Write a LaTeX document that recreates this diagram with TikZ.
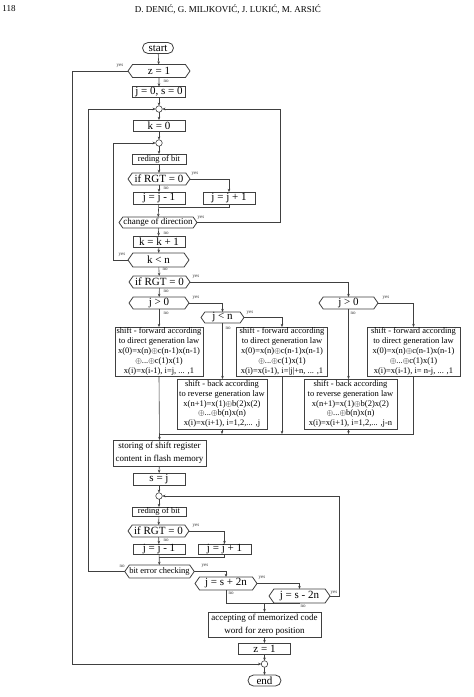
\documentclass[tikz,border=0pt]{standalone}
\usepackage{fontspec}
\setmainfont{Liberation Serif}
\usetikzlibrary{shapes.symbols,shapes.misc,arrows.meta}
\newcommand{\xop}{$\oplus$}
\begin{document}
\begin{tikzpicture}[x=1pt,y=-1pt,
  every node/.style={inner sep=0pt, outer sep=0pt},
  wh/.style 2 args={minimum width=#1pt, minimum height=#2pt},
  box/.style={draw=black!75, line width=0.8pt, fill=white, align=center, font=\fontsize{11}{12}\selectfont},
  hex/.style={draw=black!75, line width=0.8pt, fill=white, signal, signal to=east and west, signal pointer angle=110, font=\fontsize{11}{12}\selectfont},
  term/.style={draw=black!75, line width=0.8pt, fill=white, rounded rectangle, font=\fontsize{11}{12}\selectfont},
  circ/.style={draw=black!75, line width=0.6pt, fill=white, circle, minimum size=6.5pt},
  shiftbox/.style={box, font=\fontsize{8.5}{9.8}\selectfont},
  midbox/.style={box, font=\fontsize{9}{13}\selectfont},
  ln/.style={draw=black!75, line width=0.6pt},
  arr/.style={ln, -{Stealth[length=3.2pt,width=2.6pt]}},
  lab/.style={font=\fontsize{5}{6}\selectfont, text=black!80}
]
\useasboundingbox (0,0) rectangle (474,697);

% header
\node[font=\fontsize{9}{10}\selectfont] (pg) at (9,9) {118};
\node[font=\fontsize{9}{10}\selectfont] (hdr) at (228,9) {D. DENIĆ, G. MILJKOVIĆ, J. LUKIĆ, M. ARSIĆ};

% nodes
\node[term, wh={31}{11}] (start) at (158,48) {start};
\node[hex, wh={62}{13}] (z1) at (159,71) {z = 1};
\node[box, wh={53}{11}] (j0) at (159,92) {j = 0, s = 0};
\node[circ] (c1) at (159,109) {};
\node[box, wh={52}{11}] (k0) at (159,125.5) {k = 0};
\node[circ] (c2) at (159,143) {};
\node[box, wh={54}{10}, font=\fontsize{8.5}{10}\selectfont] (rb1) at (159,159) {reding of bit};
\node[hex, wh={62}{12}] (rgt1) at (159,179) {if RGT = 0};
\node[box, wh={52}{12}] (jm1) at (159,198) {j = j - 1};
\node[box, wh={52}{12}] (jp1) at (229,198) {j = j + 1};
\coordinate (m1) at (159,207);
\node[hex, wh={78}{11}, font=\fontsize{9}{10}\selectfont] (cod) at (158,222.5) {change of direction};
\node[box, wh={52}{11}] (kk) at (159,241.5) {k = k + 1};
\node[hex, wh={61}{14}] (kn) at (158.5,260) {k < n};
\node[hex, wh={61}{12}] (rgt2) at (159.5,282) {if RGT = 0};
\node[hex, wh={60}{12}] (jg0a) at (159,303) {j > 0};
\node[hex, wh={59}{12}] (jg0b) at (348.5,303) {j > 0};
\node[hex, wh={43}{11}] (jln) at (222.5,317.5) {j < n};

\node[shiftbox, wh={88}{49}] (sfl) at (159,351.5) {shift - forward according\\to direct generation law\\x(0)=x(n)\xop c(n-1)x(n-1)\\\xop...\xop c(1)x(1)\\x(i)=x(i-1), i=j, ... ,1};
\node[shiftbox, wh={91}{49}] (sfm) at (282,351.5) {shift - forward according\\to direct generation law\\x(0)=x(n)\xop c(n-1)x(n-1)\\\xop...\xop c(1)x(1)\\x(i)=x(i-1), i=|j|+n, ... ,1};
\node[shiftbox, wh={93}{49}] (sfr) at (413.5,351.5) {shift - forward according\\to direct generation law\\x(0)=x(n)\xop c(n-1)x(n-1)\\\xop...\xop c(1)x(1)\\x(i)=x(i-1), i= n-j, ... ,1};
\node[shiftbox, wh={90}{50}] (sbl) at (222,404) {shift - back according\\to reverse generation law\\x(n+1)=x(1)\xop b(2)x(2)\\\xop...\xop b(n)x(n)\\x(i)=x(i+1), i=1,2,... ,j};
\node[shiftbox, wh={93}{50}] (sbr) at (350.5,404) {shift - back according\\to reverse generation law\\x(n+1)=x(1)\xop b(2)x(2)\\\xop...\xop b(n)x(n)\\x(i)=x(i+1), i=1,2,... ,j-n};

\node[midbox, wh={93}{26}] (store) at (159.5,453) {storing of shift register\\content in flash memory};
\node[box, wh={52}{12}] (sj) at (159,479) {s = j};
\node[circ] (c3) at (159,496) {};
\node[box, wh={54}{9}, font=\fontsize{8.5}{10}\selectfont] (rb2) at (159,511.5) {reding of bit};
\node[hex, wh={61}{12}] (rgt3) at (158.5,531) {if RGT = 0};
\node[box, wh={52}{10}] (jm2) at (159,549) {j = j - 1};
\node[box, wh={53}{10}] (jp2) at (224.5,549) {j = j + 1};
\coordinate (m2) at (159,557);
\node[hex, wh={67}{13}, font=\fontsize{8.5}{10}\selectfont] (bec) at (159.5,571.5) {bit error checking};
\node[hex, wh={62}{13}] (js2p) at (226,583.5) {j = s + 2n};
\node[hex, wh={61}{14}] (js2m) at (299.5,596) {j = s - 2n};
\node[midbox, wh={113}{25}] (acc) at (264.5,624.5) {accepting of memorized code\\word for zero position};
\coordinate (m3) at (acc.north |- js2m.south);
\node[box, wh={52}{11}] (z1b) at (264.5,648.5) {z = 1};
\node[circ] (c4) at (264.5,664) {};
\node[term, wh={33}{11}] (endn) at (264.5,680.5) {end};

% connectors
\draw[arr] (start) -- (z1);
\draw[arr] (z1) -- (j0);
\draw[arr] (z1.west) -- (72,71) -- (72,664) -- (c4.west);
\draw[arr] (j0) -- (c1);
\draw[arr] (c1) -- (k0);
\draw[arr] (k0) -- (c2);
\draw[arr] (c2) -- (rb1);
\draw[arr] (rb1) -- (rgt1);
\draw[arr] (rgt1) -- (jm1);
\draw[arr] (rgt1.east) -| (jp1.north);
\draw[ln] (jp1.south) |- (m1);
\draw[arr] (jm1) -- (cod);
\draw[arr] (cod.east) -- (280,222.5) -- (280,109) -- (c1.east);
\draw[arr] (cod) -- (kk);
\draw[arr] (kk) -- (kn);
\draw[arr] (kn.west) -- (113,260) -- (113,143) -- (c2.west);
\draw[arr] (kn) -- (rgt2);
\draw[arr] (rgt2) -- (jg0a);
\draw[arr] (rgt2.east) -| (jg0b.north);
\draw[arr] (jg0a) -- (sfl);
\draw[arr] (jg0a.east) -| (jln.north);
\draw[arr] (jln.east) -| (sfm.north);
\draw[arr] (jln.south) -- (jln.south |- sbl.north);
\draw[arr] (jg0b.east) -| (sfr.north);
\draw[arr] (jg0b.south) -- (jg0b.south |- sbr.north);

\coordinate (mr) at (413.5,434);
\draw[ln] (sfr.south) -- (mr) -- (159,434);
\draw[arr] (sfl.south) -- (store.north);
\draw[arr] (sbl.south) -- (sbl.south |- mr);
\draw[arr] (sfm.south) -- (sfm.south |- mr);
\draw[arr] (jg0b.south |- sbr.south) -- (jg0b.south |- mr);

\draw[arr] (store) -- (sj);
\draw[arr] (sj) -- (c3);
\draw[arr] (c3) -- (rb2);
\draw[arr] (rb2) -- (rgt3);
\draw[arr] (rgt3) -- (jm2);
\draw[arr] (rgt3.east) -| (jp2.north);
\draw[ln] (jp2.south) |- (m2);
\draw[arr] (jm2) -- (bec);
\draw[arr] (bec.west) -- (88,571.5) -- (88,109) -- (c1.west);
\draw[arr] (bec.east) -| (js2p.north);
\draw[arr] (js2p.east) -| (js2m.north);
\draw[arr] (js2m.east) -- (339,596) -- (339,496) -- (c3.east);
\draw[ln] (js2p.south) |- (js2m.south);
\draw[arr] (m3) -- (acc.north);
\draw[arr] (acc) -- (z1b);
\draw[arr] (z1b) -- (c4);
\draw[arr] (c4) -- (endn);

% yes / no labels
\node[lab] (l1) at (120,66) {yes};
\node[lab] (l2) at (166,81) {no};
\node[lab] (l3) at (195,174) {yes};
\node[lab] (l4) at (166,188) {no};
\node[lab] (l5) at (201,218) {yes};
\node[lab] (l6) at (166,233) {no};
\node[lab] (l7) at (122,255) {yes};
\node[lab] (l8) at (165,269) {no};
\node[lab] (l9) at (196,277) {yes};
\node[lab] (l10) at (166,291) {no};
\node[lab] (l11) at (196,298) {yes};
\node[lab] (l12) at (166,313) {no};
\node[lab] (l13) at (386,298) {yes};
\node[lab] (l14) at (353,313) {no};
\node[lab] (l15) at (250,313) {yes};
\node[lab] (l16) at (228,328) {no};
\node[lab] (l17) at (196,526) {yes};
\node[lab] (l18) at (166,540) {no};
\node[lab] (l19) at (122,566) {no};
\node[lab] (l20) at (205,566) {yes};
\node[lab] (l21) at (262,578) {yes};
\node[lab] (l22) at (231,593) {no};
\node[lab] (l23) at (334,593) {yes};
\node[lab] (l24) at (303,606) {no};
\end{tikzpicture}
\end{document}
